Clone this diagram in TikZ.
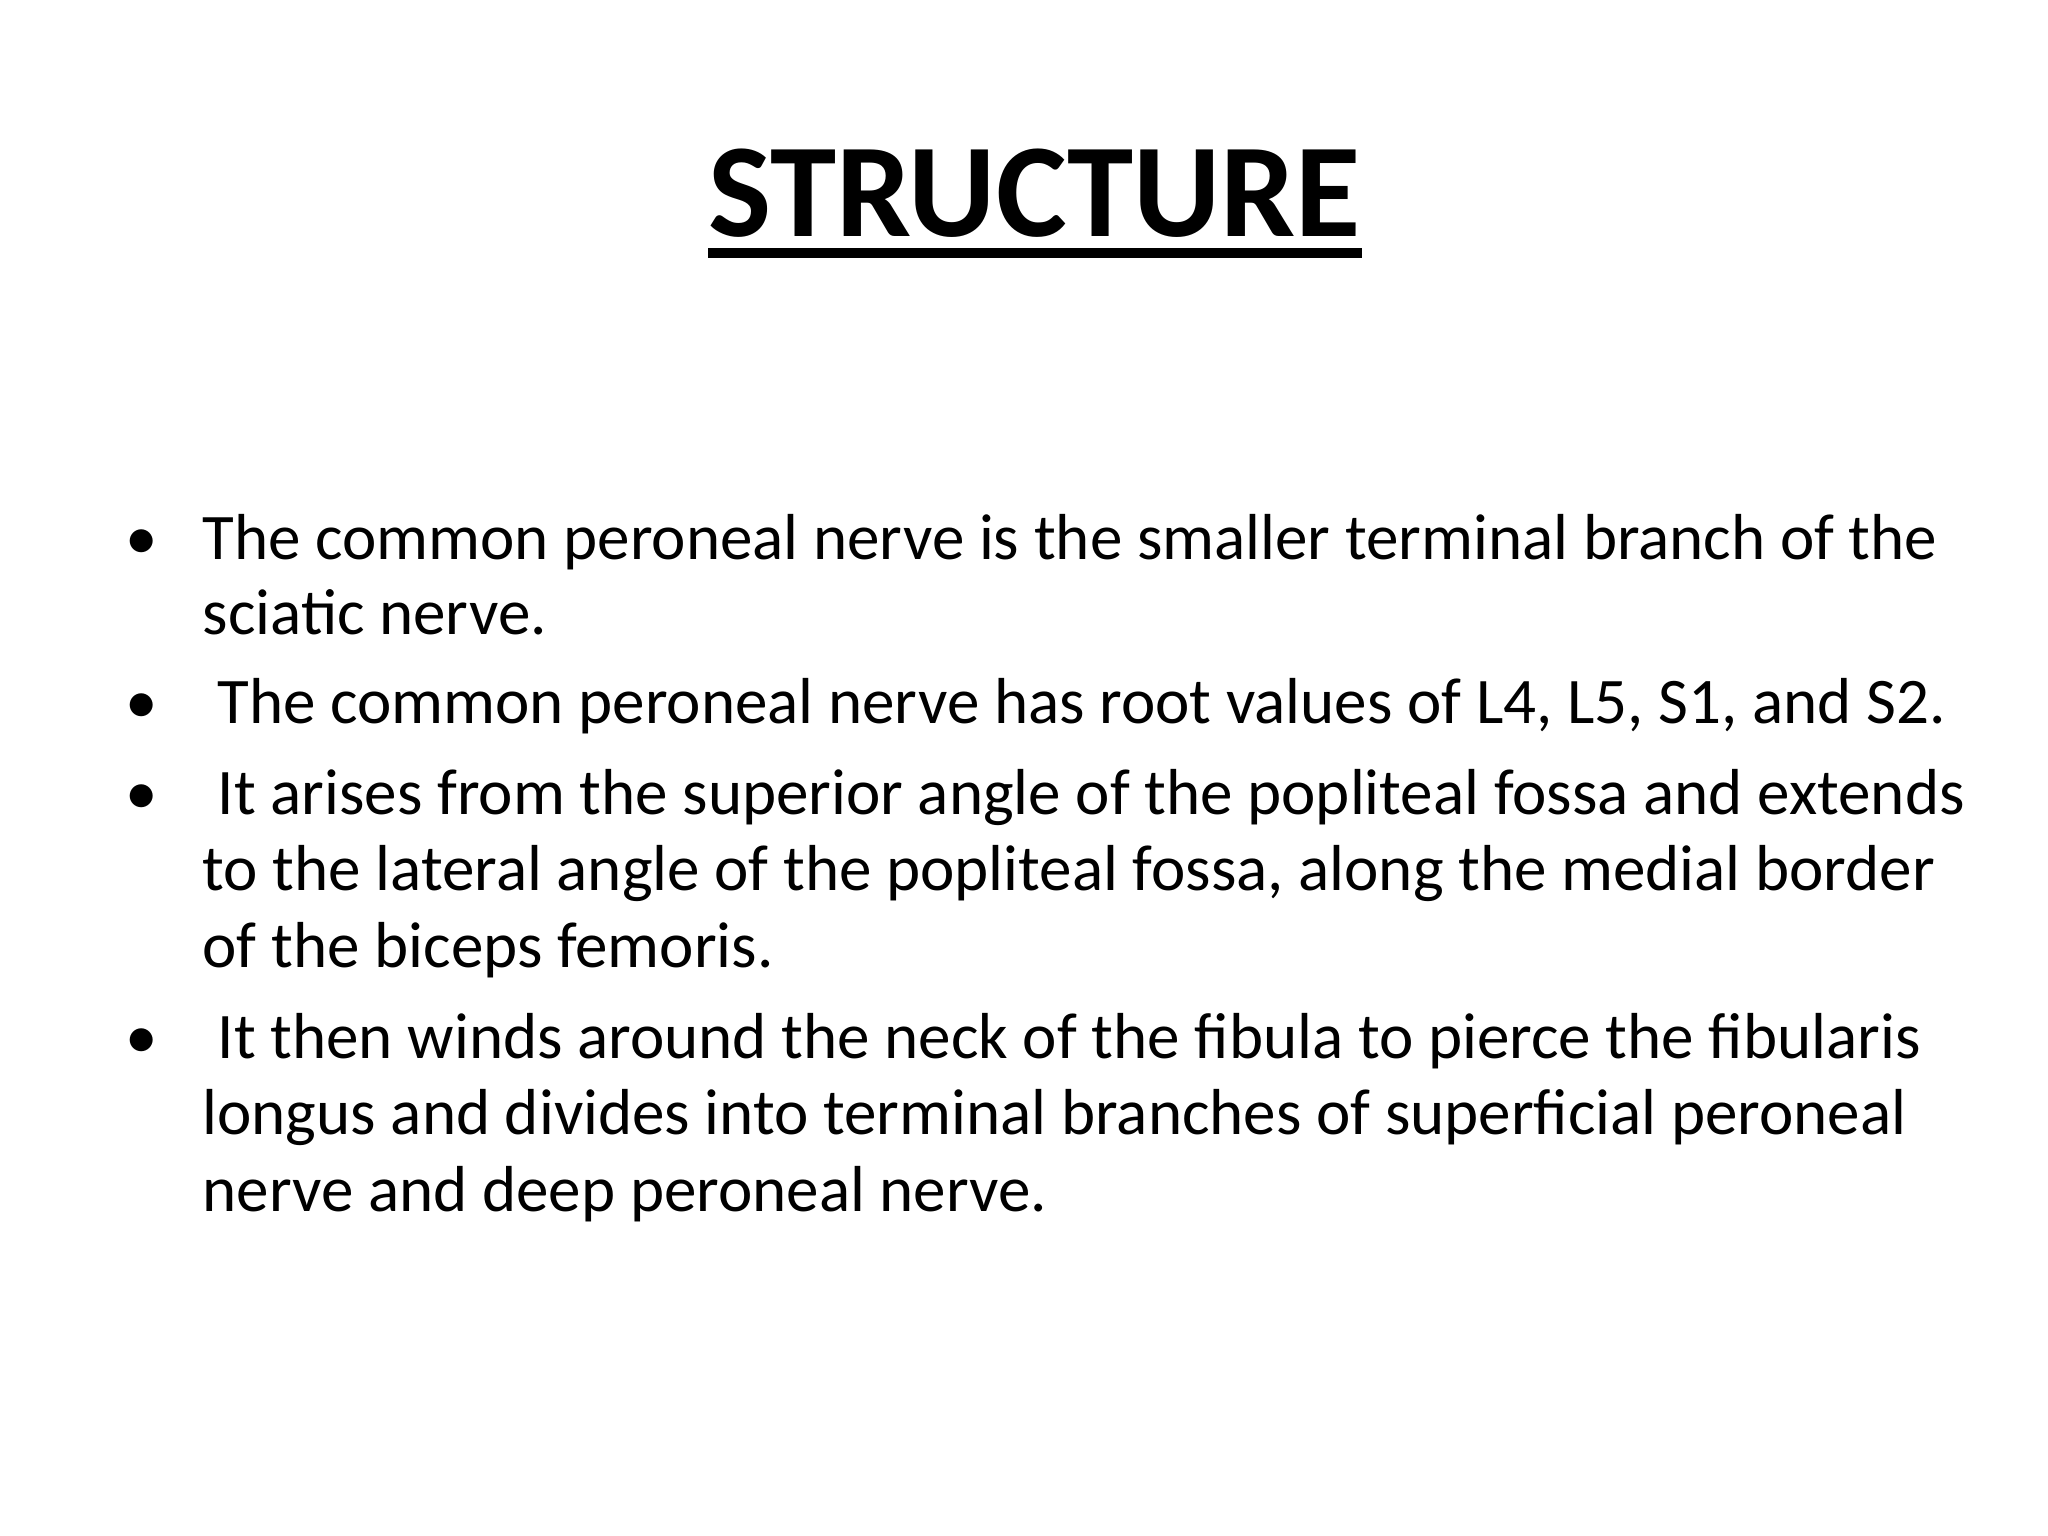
\documentclass[tikz,border=0pt]{standalone}
\usepackage{fontspec}
\setmainfont{Carlito}
\begin{document}
\begin{tikzpicture}[yscale=-1,
  body/.style={anchor=base west,inner sep=0pt,font=\fontsize{18.5pt}{22pt}\selectfont},
  bul/.style={anchor=base west,inner sep=0pt,font=\fontsize{18.5pt}{22pt}\selectfont}]
\useasboundingbox (0,0) rectangle (20.48,15.36);
\node[anchor=base,inner sep=0pt,font=\fontsize{38pt}{44pt}\selectfont\bfseries] (title) at (10.35,2.37) {STRUCTURE};
\draw[line width=2.6pt] (title.west |- 0,2.53) coordinate (u1) -- (title.east |- 0,2.53) coordinate (u2);
\node[bul] (b1) at (1.25,5.595) {•};
\node[body] (l1) at (2.02,5.595) {The common peroneal nerve is the smaller terminal branch of the};
\node[body] (l2) at (2.02,6.347) {sciatic nerve.};
\node[bul] (b2) at (1.25,7.232) {•};
\node[body] (l3) at (2.17,7.232) {The common peroneal nerve has root values of L4, L5, S1, and S2.};
\node[bul] (b3) at (1.25,8.142) {•};
\node[body] (l4) at (2.17,8.142) {It arises from the superior angle of the popliteal fossa and extends};
\node[body] (l5) at (2.02,8.907) {to the lateral angle of the popliteal fossa, along the medial border};
\node[body] (l6) at (2.02,9.673) {of the biceps femoris.};
\node[bul] (b4) at (1.25,10.583) {•};
\node[body] (l7) at (2.17,10.583) {It then winds around the neck of the fibula to pierce the fibularis};
\node[body] (l8) at (2.02,11.348) {longus and divides into terminal branches of superficial peroneal};
\node[body] (l9) at (2.02,12.114) {nerve and deep peroneal nerve.};
\end{tikzpicture}
\end{document}
